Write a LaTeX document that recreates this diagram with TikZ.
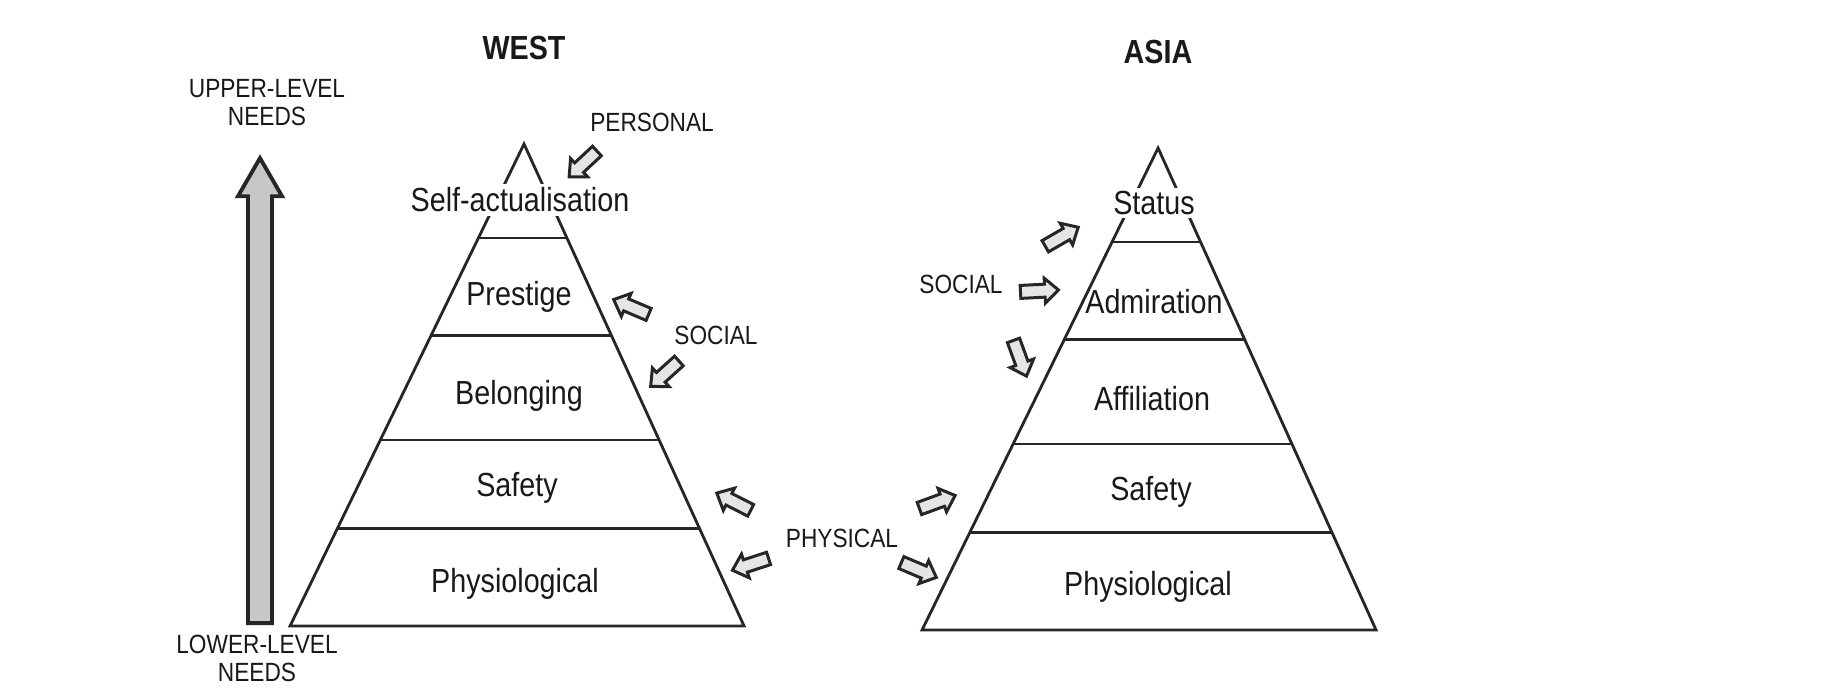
\documentclass[tikz,border=0pt]{standalone}
\usepackage{fontspec}
\setmainfont{Liberation Sans}[FakeStretch=0.86]
\usetikzlibrary{shapes.arrows,calc}

\tikzset{
  pyr/.style={draw=black!85, line width=0.8pt},
  level/.style={font=\fontsize{9.5}{11}\selectfont, text=black!90, inner sep=1pt},
  side/.style={font=\fontsize{7.5}{8}\selectfont, text=black!90, align=center, inner sep=0pt},
  title/.style={font=\fontsize{9.5}{11}\selectfont\bfseries, text=black!90},
  blockarrow/.style={single arrow, draw=black!85, fill=black!10, line width=0.85pt,
    minimum height=3.8mm, minimum width=2.3mm, inner sep=0.5mm,
    single arrow head extend=0.6mm, single arrow tip angle=85, anchor=tail}
}

\begin{document}
\begin{tikzpicture}[scale=0.1]
\clip (0,0) rectangle (183.4,-69.2);
\fill [white] (0,0) rectangle (183.4,-69.2);
\node [title] (west) at (52.4,-4.8) {WEST};
\node [title] (asia) at (115.8,-5.2) {ASIA};
\node [side] (upper) at (26.7,-10.3) {UPPER-LEVEL\\NEEDS};
\node [side] (lower) at (25.7,-65.8) {LOWER-LEVEL\\NEEDS};
\node [single arrow, draw=black!85, fill=black!22, line width=1.1pt, minimum height=4.65cm,
  minimum width=0.44cm, inner sep=0.1cm, single arrow head extend=0.1cm,
  single arrow tip angle=60, anchor=tail, rotate=90] (needs) at (26.0,-62.5) {};
\coordinate (wtop) at (52.4,-14.4);
\coordinate (wbl) at (29.0,-62.6);
\coordinate (wbr) at (74.4,-62.6);
\draw [pyr] (wtop) -- (wbl) -- (wbr) -- cycle;
\draw [pyr] ($(wtop)!0.195!(wbl)$) -- ($(wtop)!0.195!(wbr)$);
\draw [pyr] ($(wtop)!0.398!(wbl)$) -- ($(wtop)!0.398!(wbr)$);
\draw [pyr] ($(wtop)!0.614!(wbl)$) -- ($(wtop)!0.614!(wbr)$);
\draw [pyr] ($(wtop)!0.797!(wbl)$) -- ($(wtop)!0.797!(wbr)$);
\node [level, fill=white] (wself) at (52.0,-20.0) {Self-actualisation};
\node [level] (wprest) at (51.9,-29.7) {Prestige};
\node [level] (wbel) at (51.9,-39.6) {Belonging};
\node [level] (wsaf) at (51.7,-48.8) {Safety};
\node [level] (wphys) at (51.5,-58.4) {Physiological};
\coordinate (atop) at (115.8,-14.8);
\coordinate (abl) at (92.2,-63.0);
\coordinate (abr) at (137.6,-63.0);
\draw [pyr] (atop) -- (abl) -- (abr) -- cycle;
\draw [pyr] ($(atop)!0.195!(abl)$) -- ($(atop)!0.195!(abr)$);
\draw [pyr] ($(atop)!0.398!(abl)$) -- ($(atop)!0.398!(abr)$);
\draw [pyr] ($(atop)!0.614!(abl)$) -- ($(atop)!0.614!(abr)$);
\draw [pyr] ($(atop)!0.797!(abl)$) -- ($(atop)!0.797!(abr)$);
\node [level, fill=white] (astat) at (115.4,-20.3) {Status};
\node [level] (aadm) at (115.4,-30.2) {Admiration};
\node [level] (aaff) at (115.2,-39.9) {Affiliation};
\node [level] (asaf) at (115.1,-49.2) {Safety};
\node [level] (aphys) at (114.8,-58.7) {Physiological};
\node [side] (personal) at (65.2,-12.2) {PERSONAL};
\node [side] (wsocial) at (71.6,-33.5) {SOCIAL};
\node [side] (physical) at (84.2,-53.8) {PHYSICAL};
\node [side] (asocial) at (96.1,-28.4) {SOCIAL};
\node [blockarrow, rotate=-137] (persarr) at (59.8,-15.0) {};
\node [blockarrow, rotate=157] (prestarr) at (65.0,-31.5) {};
\node [blockarrow, rotate=-138] (belarr) at (68.0,-36.0) {};
\node [blockarrow, rotate=153] (wsafarr) at (75.2,-51.1) {};
\node [blockarrow, rotate=198] (wphysarr) at (77.0,-55.8) {};
\node [blockarrow, rotate=30] (statarr) at (104.4,-24.7) {};
\node [blockarrow, rotate=3] (admarr) at (101.9,-29.2) {};
\node [blockarrow, rotate=-70] (affarr) at (101.3,-33.9) {};
\node [blockarrow, rotate=20] (asafarr) at (91.8,-50.9) {};
\node [blockarrow, rotate=-23] (aphysarr) at (90.0,-56.2) {};
\end{tikzpicture}
\end{document}
